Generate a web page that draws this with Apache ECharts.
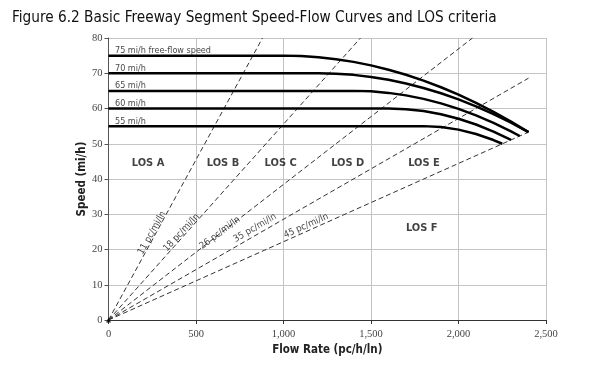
<!DOCTYPE html>
<html><head><meta charset="utf-8">
<script src="https://cdn.jsdelivr.net/npm/echarts@6/dist/echarts.min.js"></script>
<style>html,body{margin:0;padding:0;background:#fff}#c{width:614px;height:387px}</style>
</head><body><div id="c"></div>
<script>
// ---- data ----
const xTicks = [0, 500, 1000, 1500, 2000, 2500];
const yTicks = [0, 10, 20, 30, 40, 50, 60, 70, 80];
const speedNames = ['75 mi/h free-flow speed', '70 mi/h', '65 mi/h', '60 mi/h', '55 mi/h'];
const curve75 = [[0,75],[1000,75],[1100,74.89],[1200,74.56],[1300,74.0],[1400,73.23],[1500,72.23],[1600,71.01],[1700,69.58],[1800,67.92],[1900,66.03],[2000,63.93],[2100,61.61],[2200,59.06],[2300,56.29],[2400,53.3]];
const curve70 = [[0,70],[1200,70],[1300,69.88],[1400,69.54],[1500,68.96],[1600,68.14],[1700,67.1],[1800,65.82],[1900,64.32],[2000,62.58],[2100,60.6],[2200,58.4],[2300,55.96],[2400,53.3]];
const curve65 = [[0,65],[1400,65],[1500,64.86],[1600,64.43],[1700,63.72],[1800,62.73],[1900,61.46],[2000,59.9],[2100,58.05],[2200,55.92],[2300,53.51],[2350,52.2]];
const curve60 = [[0,60],[1600,60],[1700,59.82],[1800,59.27],[1900,58.37],[2000,57.09],[2100,55.46],[2200,53.46],[2300,51.1]];
const curve55 = [[0,55],[1800,55],[1900,54.75],[2000,54.01],[2100,52.78],[2200,51.05],[2250,50.0]];
const densityNames = ['11 pc/mi/ln', '18 pc/mi/ln', '26 pc/mi/ln', '35 pc/mi/ln', '45 pc/mi/ln'];
const density11 = [[0,0],[880,80]];
const density18 = [[0,0],[1440,80]];
const density26 = [[0,0],[2080,80]];
const density35 = [[0,0],[2400,68.6]];
const density45 = [[0,0],[2400,53.3]];
const losNames = ['LOS A', 'LOS B', 'LOS C', 'LOS D', 'LOS E', 'LOS F'];

// ---- annotation anchors (data coordinates) ----
const speedLabelAt = [[37,76.3],[37,71.4],[37,66.4],[37,61.4],[37,56.4]];
const densityLabelAt = [[249,24.7,61],[417,24.8,47],[637,24.7,37],[837,26.1,30],[1129,26.7,24]];
const losLabelAt = [[226,44.5],[654,44.5],[984,44.5],[1367,44.5],[1803,44.5],[1790,26.2]];

// ---- font sizing for the title ----
const cv = document.createElement('canvas').getContext('2d');
function w(font, s) { cv.font = font; return cv.measureText(s).width; }
const labelFont = '"DejaVu Sans Condensed","DejaVu Sans",sans-serif';
const titleText = 'Figure 6.2 Basic Freeway Segment Speed-Flow Curves and LOS criteria';
const titleSize = Math.min(19, 20 * 485 / w('20px ' + labelFont, titleText));

const curves = [curve75, curve70, curve65, curve60, curve55];
const densities = [density11, density18, density26, density35, density45];

const series = [];
densities.forEach((d, i) => series.push({
  type: 'line', name: densityNames[i], data: d, symbol: 'none', silent: true,
  lineStyle: { color: '#333', width: 1, type: [5, 3] }, z: 2
}));
curves.forEach((d, i) => series.push({
  type: 'line', name: speedNames[i], data: d, symbol: 'none', silent: true,
  lineStyle: { color: '#000', width: 2.5, join: 'round' }, z: 3
}));
series.push({
  type: 'scatter', symbolSize: 0, silent: true, z: 5,
  data: speedNames.map((n, i) => ({ value: speedLabelAt[i], name: n })),
  label: { show: true, position: 'right', distance: 0, formatter: p => p.name, color: '#111', fontSize: 9, fontFamily: labelFont }
});
series.push({
  type: 'scatter', symbolSize: 0, silent: true, z: 5,
  data: densityNames.map((n, i) => ({ value: densityLabelAt[i].slice(0, 2), name: n,
    label: { rotate: densityLabelAt[i][2] } })),
  label: { show: true, position: 'inside', formatter: p => p.name, color: '#111', fontSize: 9.5, fontFamily: labelFont }
});
series.push({
  type: 'scatter', symbolSize: 0, silent: true, z: 5,
  data: losNames.map((n, i) => ({ value: losLabelAt[i], name: n })),
  label: { show: true, position: 'inside', formatter: p => p.name, color: '#111', fontSize: 11, fontWeight: 'bold', fontFamily: labelFont }
});
series.push({
  type: 'scatter', symbol: 'triangle', symbolSize: 5, silent: true, z: 6,
  data: [[0, 0]], itemStyle: { color: '#000' }
});

const chart = echarts.init(document.getElementById('c'), null, { renderer: 'canvas' });
chart.setOption({
  animation: false,
  backgroundColor: '#fff',
  title: {
    text: titleText,
    left: 7, top: 6,
    textStyle: { fontSize: titleSize, fontWeight: 'normal', color: '#111', fontFamily: labelFont }
  },
  grid: { left: 108.5, right: 68, top: 38, bottom: 67 },
  xAxis: {
    type: 'value', min: xTicks[0], max: xTicks[xTicks.length - 1], interval: 500,
    name: 'Flow Rate (pc/h/ln)', nameLocation: 'middle', nameGap: 24, nameMoveOverlap: false,
    nameTextStyle: { fontSize: 11.5, fontWeight: 'bold', color: '#222', fontFamily: labelFont },
    axisLine: { lineStyle: { color: '#333', width: 1 } },
    axisTick: { show: true, length: 4, lineStyle: { color: '#333' } },
    axisLabel: { fontSize: 10.5, color: '#444', fontFamily: '"Liberation Serif",serif', margin: 9,
      formatter: v => v.toLocaleString('en-US') },
    splitLine: { show: true, lineStyle: { color: '#c4c4c4', width: 1 } }
  },
  yAxis: {
    type: 'value', min: yTicks[0], max: yTicks[yTicks.length - 1], interval: 10,
    name: 'Speed (mi/h)', nameLocation: 'middle', nameGap: 20, nameRotate: 90, nameMoveOverlap: false,
    nameTextStyle: { fontSize: 11.5, fontWeight: 'bold', color: '#222', fontFamily: labelFont },
    axisLine: { show: true, lineStyle: { color: '#555', width: 1 } },
    axisTick: { show: true, length: 4, lineStyle: { color: '#555' } },
    axisLabel: { fontSize: 10.5, color: '#444', fontFamily: '"Liberation Serif",serif', margin: 6 },
    splitLine: { show: true, lineStyle: { color: '#c4c4c4', width: 1 } }
  },
  series: series
});
</script></body></html>
